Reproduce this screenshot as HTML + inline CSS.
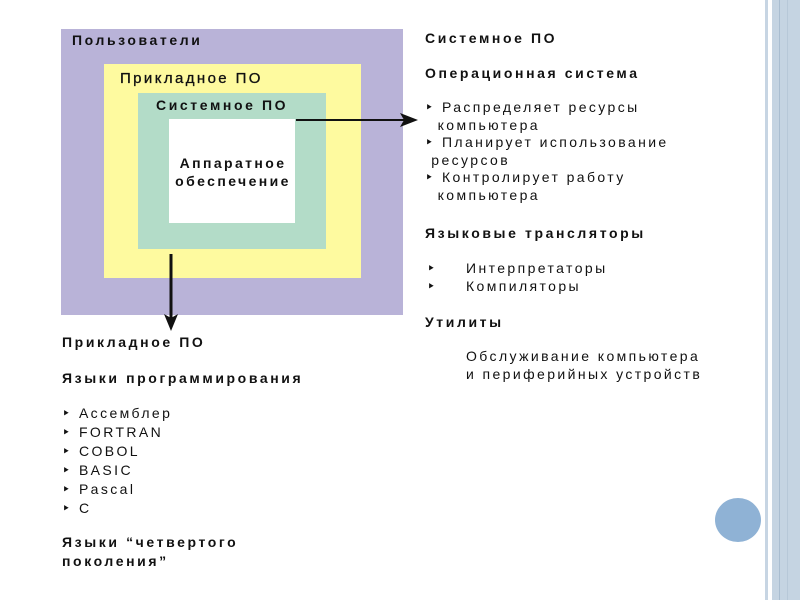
<!DOCTYPE html>
<html><head><meta charset="utf-8"><style>
body{margin:0;width:800px;height:600px;background:#fff;position:relative;overflow:hidden;font-family:"Liberation Sans","DejaVu Sans",sans-serif;color:#111}
.a{position:absolute;white-space:nowrap}
.b{font-weight:bold;font-size:14px;letter-spacing:2.6px}
.n{font-size:14px;letter-spacing:2.4px;line-height:17.5px}
.r{position:absolute}
</style></head><body>
<div class="r" style="left:61px;top:29px;width:342px;height:286px;background:#b9b3d8"></div>
<div class="r" style="left:104px;top:64px;width:257px;height:214px;background:#fefa9f"></div>
<div class="r" style="left:138px;top:93px;width:188px;height:156px;background:#b3dcc8"></div>
<div class="r" style="left:169px;top:119px;width:126px;height:104px;background:#fff"></div>
<div class="a b" style="left:72px;top:32px">Пользователи</div>
<div class="a b" style="left:120px;top:70px;font-weight:normal;font-size:15px;letter-spacing:2.4px;-webkit-text-stroke:0.3px #111">Прикладное ПО</div>
<div class="a b" style="left:156px;top:97px">Системное ПО</div>
<div class="a b" style="left:166px;top:154px;width:134px;text-align:center;white-space:normal;line-height:18px;font-size:14px;letter-spacing:2.4px">Аппаратное обеспечение</div>
<svg class="r" style="left:0;top:0" width="800" height="600">
<line x1="296" y1="120" x2="405" y2="120" stroke="#111" stroke-width="2"/>
<polygon points="418,120 400,113 404,120 400,127" fill="#111"/>
<line x1="171" y1="254" x2="171" y2="318" stroke="#111" stroke-width="3"/>
<polygon points="171,331 164,314 171,318 178,314" fill="#111"/>
<rect x="765" y="0" width="3" height="600" fill="#c7d5e3"/>
<rect x="772" y="0" width="28" height="600" fill="#c5d4e2"/>
<rect x="779" y="0" width="1" height="600" fill="#a9bdd0"/>
<rect x="787" y="0" width="1" height="600" fill="#b7c8d8"/>
<ellipse cx="738" cy="520" rx="23" ry="22" fill="#8fb2d5"/>
</svg>
<div class="a b" style="left:425px;top:30px">Системное ПО</div>
<div class="a b" style="left:425px;top:65px">Операционная система</div>
<div class="a n" style="left:425px;top:99px">‣ Распределяет ресурсы<br>&nbsp;&nbsp;компьютера<br>‣ Планирует использование<br>&nbsp;ресурсов<br>‣ Контролирует работу<br>&nbsp;&nbsp;компьютера</div>
<div class="a b" style="left:425px;top:225px">Языковые трансляторы</div>
<div class="a n" style="left:427px;top:260px">‣<br>‣</div>
<div class="a n" style="left:466px;top:260px">Интерпретаторы<br>Компиляторы</div>
<div class="a b" style="left:425px;top:314px">Утилиты</div>
<div class="a n" style="left:466px;top:348px">Обслуживание компьютера<br>и периферийных устройств</div>
<div class="a b" style="left:62px;top:334px">Прикладное ПО</div>
<div class="a b" style="left:62px;top:370px">Языки программирования</div>
<div class="a n" style="left:62px;top:404px;line-height:19px">‣ Ассемблер<br>‣ FORTRAN<br>‣ COBOL<br>‣ BASIC<br>‣ Pascal<br>‣ C</div>
<div class="a b" style="left:62px;top:533px;line-height:19px">Языки “четвертого<br>поколения”</div>
</body></html>
